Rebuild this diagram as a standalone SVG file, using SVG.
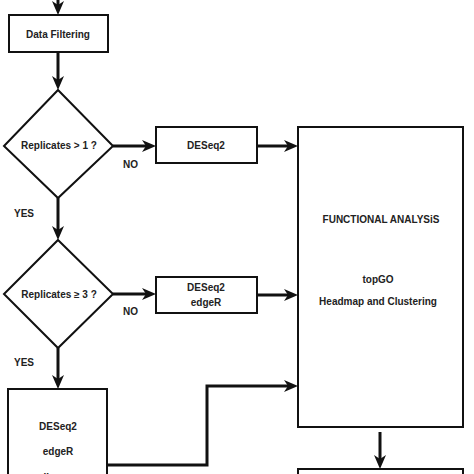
<svg xmlns="http://www.w3.org/2000/svg" width="474" height="474" viewBox="0 0 474 474">
<defs>
<style>
.box{fill:#fff;stroke:#111;stroke-width:2}
.con{fill:none;stroke:#111;stroke-width:3;marker-end:url(#ah)}
text{font-family:"Liberation Sans",Arial,sans-serif;font-weight:bold;font-size:10px;fill:#222}
.c{text-anchor:middle}
</style>
<marker id="ah" viewBox="0 0 14 12" markerWidth="14" markerHeight="12" refX="6" refY="6" markerUnits="userSpaceOnUse" orient="auto">
<path d="M0,0 L14,6 L0,12 L4,6 z" fill="#111"/>
</marker>
</defs>
<rect width="474" height="474" fill="#fff"/>
<g id="connectors">
<path class="con" d="M58,0 V7"/>
<path class="con" d="M58,52 V82"/>
<path class="con" d="M113,146 H148"/>
<path class="con" d="M257,146 H290"/>
<path class="con" d="M58,198 V232"/>
<path class="con" d="M113,294 H148"/>
<path class="con" d="M257,295 H290"/>
<path class="con" d="M58,348 V381"/>
<path class="con" d="M107,465 H207 V386 H290"/>
<path class="con" d="M380,432 V461"/>
</g>
<g id="data-filtering">
<rect class="box" x="9" y="15" width="99" height="37"/>
<text class="c" x="58" y="38">Data Filtering</text>
</g>
<g id="decision1">
<polygon class="box" points="58,90 113,146 58,198 4,146"/>
<text class="c" x="59" y="149">Replicates &gt; 1 ?</text>
<text x="123" y="168">NO</text>
<text x="14" y="217">YES</text>
</g>
<g id="deseq2">
<rect class="box" x="156" y="127" width="101" height="36"/>
<text class="c" x="206" y="149">DESeq2</text>
</g>
<g id="decision2">
<polygon class="box" points="58,240 113,294 58,348 4,294"/>
<text class="c" x="59" y="298">Replicates ≥ 3 ?</text>
<text x="123" y="315">NO</text>
<text x="14" y="366">YES</text>
</g>
<g id="deseq2-edger">
<rect class="box" x="156" y="277" width="101" height="36"/>
<text class="c" x="206" y="291">DESeq2</text>
<text class="c" x="206" y="306">edgeR</text>
</g>
<g id="all-methods">
<rect class="box" x="8" y="389" width="99" height="100"/>
<text class="c" x="58" y="430">DESeq2</text>
<text class="c" x="58" y="455">edgeR</text>
<text class="c" x="58" y="481">limma</text>
</g>
<g id="functional-analysis">
<rect class="box" x="298" y="127" width="165" height="300"/>
<text class="c" x="381" y="223">FUNCTIONAL ANALYSiS</text>
<text class="c" x="378" y="283">topGO</text>
<text class="c" x="378" y="305">Headmap and Clustering</text>
</g>
<g id="next-step">
<rect class="box" x="298" y="469" width="165" height="20"/>
</g>
</svg>
